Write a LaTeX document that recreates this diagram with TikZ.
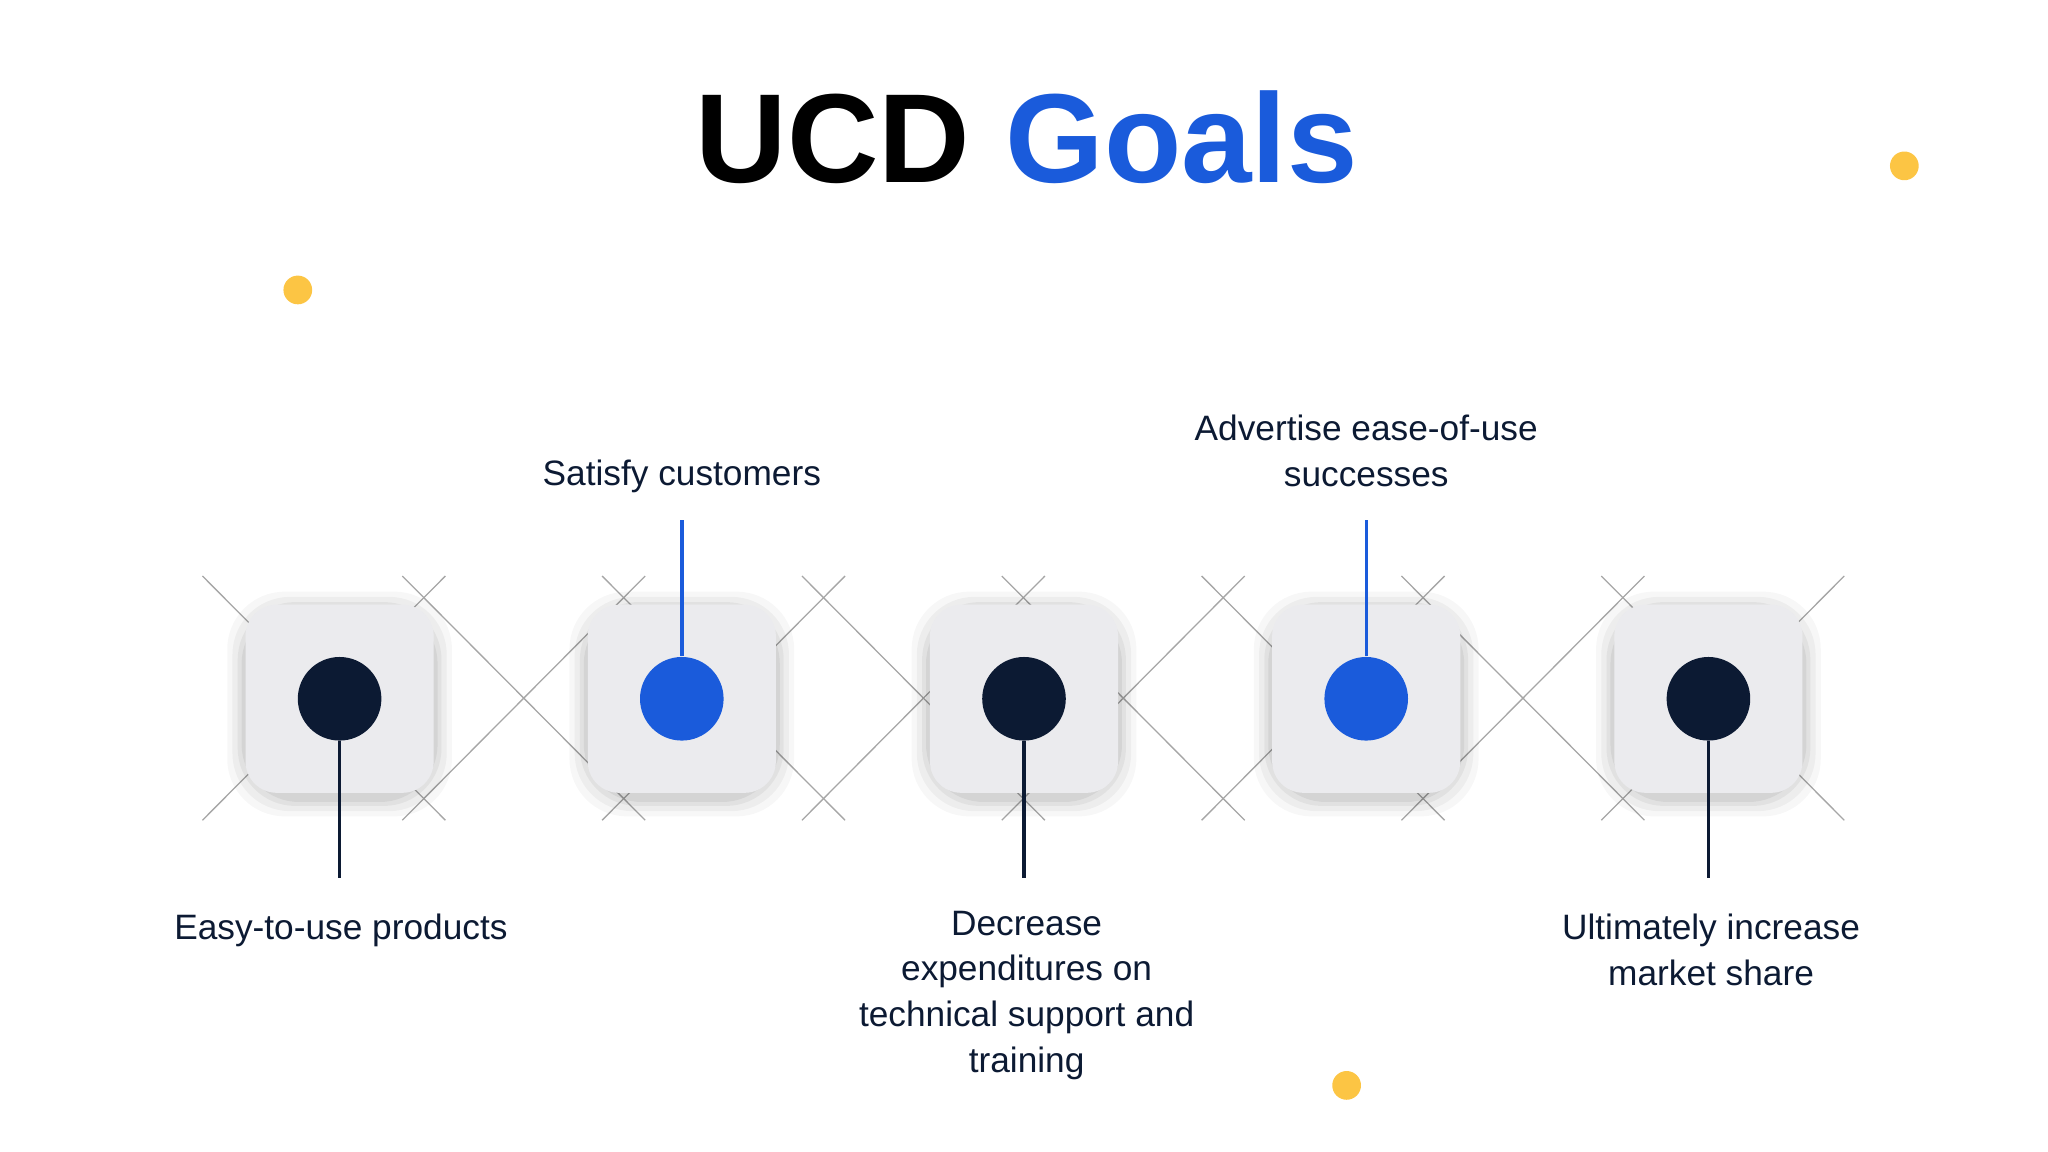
\documentclass[tikz,border=0pt]{standalone}
\usepackage{fontspec}
\setmainfont{Liberation Sans}
\definecolor{navy}{HTML}{0C1A33}
\definecolor{blueA}{HTML}{1A5BDB}
\definecolor{boxg}{HTML}{EBEBEE}
\definecolor{yel}{HTML}{FCC544}
\begin{document}
\begin{tikzpicture}[x=0.5pt,y=-0.5pt,
  lbl/.style={font=\fontsize{13.5}{17.5}\selectfont, text=navy, align=center},
  stem/.style={line width=1.3pt},
  xline/.style={draw=gray!70, line width=0.5pt},
  dotY/.style={circle, fill=yel, minimum size=11pt, inner sep=0pt}]
\useasboundingbox (0,0) rectangle (1568,882);
% lattice of crossing lines
\foreach \k in {0,...,7}{
  \draw[xline] ({155+153*\k},441) -- ({341+153*\k},628);
  \draw[xline] ({155+153*\k},628) -- ({341+153*\k},441);
}
% boxes
\foreach \i/\cx in {0/260,1/522,2/784,3/1046,4/1308}{
  \foreach \s/\o in {14/0.03,10/0.04,6/0.05,3/0.06}{
    \fill[black, opacity=\o, rounded corners=22pt] (\cx-72-\s,463-\s+4) rectangle (\cx+72+\s,607+\s+4);
  }
  \node[fill=boxg, rounded corners=12pt, minimum size=72pt, inner sep=0pt] (b\i) at (\cx,535) {};
}
% circles
\node[circle, fill=navy, minimum size=32pt, inner sep=0pt] (c0) at (260,535) {};
\node[circle, fill=blueA, minimum size=32pt, inner sep=0pt] (c1) at (522,535) {};
\node[circle, fill=navy, minimum size=32pt, inner sep=0pt] (c2) at (784,535) {};
\node[circle, fill=blueA, minimum size=32pt, inner sep=0pt] (c3) at (1046,535) {};
\node[circle, fill=navy, minimum size=32pt, inner sep=0pt] (c4) at (1308,535) {};
\coordinate (e0) at (260,672);
\coordinate (e1) at (522,398);
\coordinate (e2) at (784,672);
\coordinate (e3) at (1046,398);
\coordinate (e4) at (1308,672);
\draw[stem, navy] (c0.south) -- (e0);
\draw[stem, blueA] (c1.north) -- (e1);
\draw[stem, navy] (c2.south) -- (e2);
\draw[stem, blueA] (c3.north) -- (e3);
\draw[stem, navy] (c4.south) -- (e4);
% labels
\node[lbl] (l0) at (261,712) {Easy-to-use products};
\node[lbl] (l1) at (522,365) {Satisfy customers};
\node[lbl] (l3) at (1046,345) {Advertise ease-of-use\\successes};
\node[lbl] (l2) at (786,762) {Decrease\\expenditures on\\technical support and\\training};
\node[lbl] (l4) at (1310,727) {Ultimately increase\\market share};
% title
\node[font=\fontsize{48.5}{56}\selectfont\bfseries] (title) at (786,105) {UCD \textcolor{blueA}{Goals}};
% dots
\node[dotY] (d1) at (228,222) {};
\node[dotY] (d2) at (1458,127) {};
\node[dotY] (d3) at (1031,831) {};
\end{tikzpicture}
\end{document}
